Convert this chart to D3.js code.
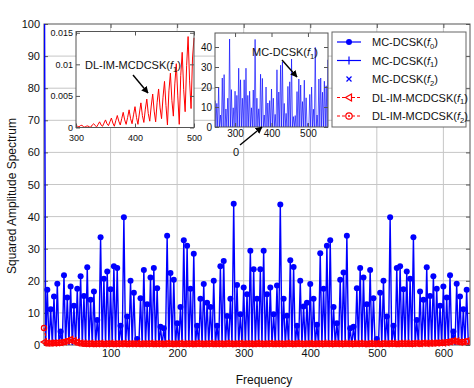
<!DOCTYPE html>
<html>
<head>
<meta charset="utf-8">
<script src="https://cdn.jsdelivr.net/npm/d3@7"></script>
<style>
  body { margin: 0; background: #fff; }
  text { font-family: "Liberation Sans", Arial, sans-serif; fill: #111; }
</style>
</head>
<body>
<svg width="474" height="388"></svg>
<script>
// ---- data ----
// subcarrier frequencies, one stem every 5 units (0 .. 635)
var stemFreq = d3.range(0, 640, 5);

// MC-DCSK squared amplitude at each stem (k=0 runs off the top of the axes)
var mcPeaks = [150,
  17.2, 11.1, 15.1, 19.1, 4.2, 21.7, 14.8, 18.2, 12.2, 17.5,
  21.4, 15.3, 24.2, 14.1, 16.7, 7.8, 33.6, 20.6, 22.9, 17.4,
  24.5, 24.0, 6.0, 39.8, 8.9, 20.0, 16.3, 1.9, 14.6, 23.4,
  12.7, 21.0, 24.0, 17.7, 5.7, 5.2, 34.0, 22.4, 20.3, 6.8,
  11.8, 32.6, 30.9, 17.5, 28.4, 6.0, 14.4, 19.0, 13.2, 11.8,
  20.0, 6.0, 24.5, 26.2, 9.0, 14.4, 44.0, 18.7, 9.6, 17.9,
  15.8, 29.4, 23.6, 14.4, 23.6, 29.4, 15.8, 17.9, 9.6, 18.5,
  43.8, 14.4, 9.1, 26.4, 24.3, 6.0, 20.0, 12.0, 13.2, 19.0,
  14.4, 6.3, 28.6, 17.5, 30.9, 32.6, 11.8, 6.8, 20.3, 22.6,
  34.0, 5.2, 5.7, 17.7, 24.0, 21.0, 12.7, 23.4, 14.6, 1.9,
  16.3, 20.0, 8.9, 39.8, 6.0, 24.0, 24.5, 17.4, 22.9, 20.6,
  33.6, 7.8, 16.7, 14.1, 24.2, 15.3, 21.4, 17.5, 12.2, 18.2,
  14.8, 21.7, 4.2, 19.1, 15.1, 11.1, 17.2];

// DL-IM-MCDCSK, on the main axis scale (near zero everywhere)
var dlF1Main = [0.9, 0.7, 0.6, 0.6, 0.7, 0.8, 1.0, 1.3, 1.8, 1.4,
  0.9, 0.6, 0.5, 0.4, 0.5, 0.4, 0.4, 0.5, 0.4, 0.4,
  0.5, 0.4, 0.4, 0.4, 0.5, 0.4, 0.4, 0.4, 0.5, 0.4,
  0.4, 0.4, 0.5, 0.4, 0.4, 0.4, 0.4, 0.5, 0.4, 0.4,
  0.4, 0.5, 0.4, 0.4, 0.4, 0.4, 0.5, 0.4, 0.4, 0.4,
  0.5, 0.4, 0.4, 0.4, 0.4, 0.5, 0.4, 0.4, 0.4, 0.5,
  0.4, 0.4, 0.4, 0.4, 0.5, 0.4, 0.4, 0.4, 0.5, 0.4,
  0.4, 0.4, 0.4, 0.5, 0.4, 0.4, 0.5, 0.4, 0.4, 0.4,
  0.5, 0.4, 0.4, 0.4, 0.5, 0.4, 0.4, 0.5, 0.4, 0.4,
  0.5, 0.4, 0.4, 0.5, 0.4, 0.5, 0.4, 0.4, 0.5, 0.4,
  0.5, 0.4, 0.5, 0.4, 0.5, 0.5, 0.4, 0.5, 0.5, 0.5,
  0.4, 0.5, 0.5, 0.5, 0.6, 0.5, 0.6, 0.6, 0.6, 0.7,
  0.6, 0.8, 1.1, 1.4, 1.2, 0.9, 1.0, 1.2];
var dlF2Main = [5.3, 0.5, 0.5, 0.6, 0.6, 0.7, 0.9, 1.2, 1.6, 1.2,
  0.8, 0.5, 0.4, 0.4, 0.4, 0.3, 0.4, 0.4, 0.3, 0.4,
  0.4, 0.3, 0.4, 0.4, 0.4, 0.3, 0.4, 0.4, 0.4, 0.3,
  0.4, 0.4, 0.4, 0.3, 0.4, 0.4, 0.3, 0.4, 0.4, 0.3,
  0.4, 0.4, 0.3, 0.4, 0.4, 0.3, 0.4, 0.4, 0.3, 0.4,
  0.4, 0.3, 0.4, 0.4, 0.3, 0.4, 0.4, 0.3, 0.4, 0.4,
  0.3, 0.4, 0.4, 0.3, 0.4, 0.4, 0.3, 0.4, 0.4, 0.3,
  0.4, 0.4, 0.3, 0.4, 0.4, 0.3, 0.4, 0.4, 0.3, 0.4,
  0.4, 0.3, 0.4, 0.4, 0.3, 0.4, 0.4, 0.3, 0.4, 0.4,
  0.3, 0.4, 0.4, 0.3, 0.4, 0.4, 0.4, 0.3, 0.4, 0.4,
  0.4, 0.3, 0.4, 0.4, 0.4, 0.4, 0.3, 0.4, 0.4, 0.4,
  0.4, 0.4, 0.5, 0.4, 0.5, 0.5, 0.5, 0.5, 0.6, 0.6,
  0.7, 0.9, 1.0, 1.2, 1.1, 0.9, 0.9, 1.1];

// zoomed DL-IM-MCDCSK(f1) between 300 and 500, in units of 0.001
var insetDlFreq = d3.range(300, 500.1, 2.5);
var insetDlMilli = [0.4, 0.2, 0.1, 0.3, 0.35, 0.15, 0.05, 0.2,
  0.25, 0.1, 0.05, 0.4, 0.6, 0.3, 0.1, 0.5,
  0.9, 0.4, 0.2, 0.7, 1.2, 0.6, 0.3, 0.9,
  1.5, 0.7, 0.2, 1.1, 1.9, 1.0, 0.4, 1.4,
  2.4, 1.2, 0.5, 1.6, 2.8, 1.4, 0.6, 2.0,
  3.3, 1.6, 0.5, 2.3, 3.9, 1.9, 0.8, 2.9,
  4.5, 2.2, 1.0, 3.4, 5.3, 2.6, 0.9, 4.0,
  6.1, 3.1, 1.4, 4.8, 7.3, 3.5, 0.4, 5.8,
  8.6, 4.3, 1.8, 6.9, 10.1, 5.0, 0.5, 8.2,
  11.9, 6.0, 2.5, 9.8, 14.4, 7.5, 3.0, 11.0, 14.2];

// tick labels
var mainXTicks = [100, 200, 300, 400, 500, 600];
var mainYTicks = [0, 10, 20, 30, 40, 50, 60, 70, 80, 90, 100];
var inset1XTicks = [300, 400, 500];
var inset1YTicks = [0, 5, 10, 15];
var inset1YLabels = ['0', '0.005', '0.01', '0.015'];
var inset2XTicks = [300, 400, 500];
var inset2YTicks = [0, 10, 20, 30, 40];

var legendNames = [['MC-DCSK(', '0'], ['MC-DCSK(', '1'], ['MC-DCSK(', '2'],
                   ['DL-IM-MCDCSK(', '1'], ['DL-IM-MCDCSK(', '2']];

var BLUE = '#0000ff', RED = '#ff0000';

var svg = d3.select('svg');
var svgWidth = +svg.attr('width');
var svgHeight = +svg.attr('height');

svg.append('rect').attr('width', svgWidth).attr('height', svgHeight).attr('fill', '#fff');

var defs = svg.append('defs');
defs.append('clipPath').attr('id', 'clipMain').append('rect')
  .attr('x', 44).attr('y', 24).attr('width', 426).attr('height', 321);
defs.append('clipPath').attr('id', 'clipIn2').append('rect')
  .attr('x', 215).attr('y', 33).attr('width', 113).attr('height', 94);
defs.append('marker').attr('id', 'arrow')
  .attr('viewBox', '0 0 10 10').attr('refX', 9).attr('refY', 5)
  .attr('markerWidth', 5).attr('markerHeight', 5).attr('orient', 'auto')
  .append('path').attr('d', 'M0,0L10,5L0,10Z').attr('fill', '#000');

// main scales
var x = d3.scaleLinear().domain([0, 640]).range([44, 470]);
var y = d3.scaleLinear().domain([0, 100]).range([345, 24]);

// grid
var grid = svg.append('g').attr('stroke', '#c6c6c6').attr('stroke-width', 1);
grid.selectAll('line.gx').data(mainXTicks).enter().append('line')
  .attr('x1', function(d) { return x(d); }).attr('x2', function(d) { return x(d); })
  .attr('y1', y(0)).attr('y2', y(100));
grid.selectAll('line.gy').data(mainYTicks.slice(1, -1)).enter().append('line')
  .attr('x1', x(0)).attr('x2', x(640))
  .attr('y1', function(d) { return y(d); }).attr('y2', function(d) { return y(d); });

// axes with inward ticks (box on)
function drawAxes(g, xs, ys, xt, yt, yFmt, fs, padX, padY) {
  g.append('g').attr('transform', 'translate(0,' + ys.range()[0] + ')')
    .call(d3.axisBottom(xs).tickValues(xt).tickSize(-4).tickPadding(padX));
  g.append('g').attr('transform', 'translate(0,' + ys.range()[1] + ')')
    .call(d3.axisTop(xs).tickValues(xt).tickSize(-4).tickFormat(''));
  g.append('g').attr('transform', 'translate(' + xs.range()[0] + ',0)')
    .call(d3.axisLeft(ys).tickValues(yt).tickSize(-4).tickPadding(padY).tickFormat(yFmt));
  g.append('g').attr('transform', 'translate(' + xs.range()[1] + ',0)')
    .call(d3.axisRight(ys).tickValues(yt).tickSize(-4).tickFormat(''));
  g.selectAll('.domain').remove();
  g.selectAll('.tick line').attr('stroke', '#555');
  g.selectAll('.tick text').attr('font-size', fs).attr('fill', '#222')
    .attr('font-family', '"Liberation Sans", Arial, sans-serif');
  g.append('rect').attr('x', xs.range()[0]).attr('y', ys.range()[1])
    .attr('width', xs.range()[1] - xs.range()[0]).attr('height', ys.range()[0] - ys.range()[1])
    .attr('fill', 'none').attr('stroke', '#555').attr('stroke-width', 1);
}

var mainAxes = svg.append('g');
drawAxes(mainAxes, x, y, mainXTicks, mainYTicks, function(d) { return d; }, 11, 4, 4);

// spike path for a stem series
function spikePath(xs, ys, freqs, vals) {
  var p = '';
  freqs.forEach(function(f, i) {
    p += 'M' + xs(f - 2.5) + ',' + ys(0) + 'L' + xs(f) + ',' + ys(vals[i]) + 'L' + xs(f + 2.5) + ',' + ys(0);
  });
  return p;
}

// MC-DCSK stems
var blueG = svg.append('g').attr('clip-path', 'url(#clipMain)');
blueG.append('path').attr('d', spikePath(x, y, stemFreq, mcPeaks))
  .attr('fill', 'none').attr('stroke', BLUE).attr('stroke-width', 1.4);
blueG.selectAll('circle').data(stemFreq.slice(1)).enter().append('circle')
  .attr('cx', function(d) { return x(d); })
  .attr('cy', function(d, i) { return y(mcPeaks[i + 1]); })
  .attr('r', 3).attr('fill', BLUE);

// DL-IM-MCDCSK band near zero
var redG = svg.append('g');
var lineMain = d3.line().x(function(d) { return x(d[0]); }).y(function(d) { return y(d[1]); });
redG.append('path').attr('d', lineMain(stemFreq.map(function(f, i) { return [f, dlF2Main[i]]; })))
  .attr('fill', 'none').attr('stroke', RED).attr('stroke-width', 1.2).attr('stroke-dasharray', '3,2');
redG.append('path').attr('d', lineMain(stemFreq.map(function(f, i) { return [f, dlF1Main[i]]; })))
  .attr('fill', 'none').attr('stroke', RED).attr('stroke-width', 1.2).attr('stroke-dasharray', '3,2');
redG.selectAll('path.tri').data(stemFreq).enter().append('path').attr('class', 'tri')
  .attr('transform', function(d, i) { return 'translate(' + x(d) + ',' + y(dlF1Main[i]) + ')'; })
  .attr('d', 'M-3,0L2.2,-3L2.2,3Z').attr('fill', 'none').attr('stroke', RED).attr('stroke-width', 1.2);
redG.selectAll('circle').data(stemFreq).enter().append('circle')
  .attr('cx', function(d) { return x(d); })
  .attr('cy', function(d, i) { return y(dlF2Main[i]); })
  .attr('r', 2.6).attr('fill', 'none').attr('stroke', RED).attr('stroke-width', 1.2);

// ---- inset 1: DL-IM-MCDCSK(f1) zoom ----
var x1 = d3.scaleLinear().domain([300, 500]).range([76, 194]);
var y1 = d3.scaleLinear().domain([0, 15.2]).range([127.5, 31.5]);
var in1 = svg.append('g');
in1.append('rect').attr('x', 76).attr('y', 31.5).attr('width', 118).attr('height', 96).attr('fill', '#fff');
in1.append('path')
  .attr('d', d3.line().x(function(d, i) { return x1(insetDlFreq[i]); }).y(function(d) { return y1(d); })(insetDlMilli))
  .attr('fill', 'none').attr('stroke', RED).attr('stroke-width', 1);
drawAxes(in1, x1, y1, inset1XTicks, inset1YTicks, function(d, i) { return inset1YLabels[i]; }, 9, 7, 3);

// ---- inset 2: MC-DCSK zoom ----
var x2 = d3.scaleLinear().domain([245, 555]).range([215, 328]);
var y2 = d3.scaleLinear().domain([0, 47]).range([127, 33]);
var in2 = svg.append('g');
in2.append('rect').attr('x', 215).attr('y', 33).attr('width', 113).attr('height', 94).attr('fill', '#fff');
in2.append('g').attr('clip-path', 'url(#clipIn2)').append('path')
  .attr('d', spikePath(x2, y2, stemFreq, mcPeaks))
  .attr('fill', 'none').attr('stroke', BLUE).attr('stroke-width', 0.8).attr('stroke-opacity', 0.8);
drawAxes(in2, x2, y2, inset2XTicks, inset2YTicks, function(d) { return d; }, 10, 3, 3);

// text with italic f and subscript
function subLabel(g, tx, ty, prefix, sub, fs) {
  var t = g.append('text').attr('x', tx).attr('y', ty).attr('font-size', fs);
  t.append('tspan').text(prefix);
  t.append('tspan').attr('font-style', 'italic').text('f');
  t.append('tspan').attr('dy', fs * 0.25).attr('font-size', fs * 0.7).text(sub);
  t.append('tspan').attr('dy', -fs * 0.25).text(')');
  return t;
}

// ---- legend ----
var legendG = svg.append('g');
legendG.append('rect').attr('x', 332).attr('y', 32).attr('width', 134).attr('height', 95)
  .attr('fill', '#fff').attr('stroke', '#666').attr('stroke-width', 1);
legendNames.forEach(function(nm, i) {
  var ly = 42 + i * 18.5;
  var mx = 349;
  if (i === 0 || i === 1) {
    legendG.append('line').attr('x1', 337).attr('x2', 361).attr('y1', ly).attr('y2', ly)
      .attr('stroke', BLUE).attr('stroke-width', 1.2);
  }
  if (i >= 3) {
    legendG.append('line').attr('x1', 337).attr('x2', 361).attr('y1', ly).attr('y2', ly)
      .attr('stroke', RED).attr('stroke-width', 1.2).attr('stroke-dasharray', '3,2');
  }
  if (i === 0) legendG.append('circle').attr('cx', mx).attr('cy', ly).attr('r', 3).attr('fill', BLUE);
  if (i === 1) legendG.append('path').attr('d', 'M' + (mx - 4) + ',' + ly + 'h8M' + mx + ',' + (ly - 4) + 'v8')
    .attr('stroke', BLUE).attr('stroke-width', 1.2);
  if (i === 2) legendG.append('path')
    .attr('d', 'M' + (mx - 2.5) + ',' + (ly - 2.5) + 'l5,5M' + (mx + 2.5) + ',' + (ly - 2.5) + 'l-5,5')
    .attr('stroke', BLUE).attr('stroke-width', 1.2);
  if (i === 3) legendG.append('path').attr('transform', 'translate(' + mx + ',' + ly + ')')
    .attr('d', 'M-3.5,0L2.5,-3.5L2.5,3.5Z').attr('fill', '#fff').attr('stroke', RED).attr('stroke-width', 1.2);
  if (i === 4) {
    legendG.append('circle').attr('cx', mx).attr('cy', ly).attr('r', 3.2)
      .attr('fill', '#fff').attr('stroke', RED).attr('stroke-width', 1.2);
    legendG.append('circle').attr('cx', mx).attr('cy', ly).attr('r', 1).attr('fill', RED);
  }
  subLabel(legendG, 372, ly + 4, nm[0], nm[1], 11);
});

// ---- annotations ----
var ann = svg.append('g');
subLabel(ann, 85, 69, 'DL-IM-MCDCSK(', '1', 11);
ann.append('line').attr('x1', 133).attr('y1', 75).attr('x2', 148).attr('y2', 93)
  .attr('stroke', '#000').attr('stroke-width', 1.4).attr('marker-end', 'url(#arrow)');
subLabel(ann, 252, 56, 'MC-DCSK(', '1', 11);
ann.append('line').attr('x1', 282).attr('y1', 60).attr('x2', 297).attr('y2', 77)
  .attr('stroke', '#000').attr('stroke-width', 1.4).attr('marker-end', 'url(#arrow)');
ann.append('text').attr('x', 236).attr('y', 156).attr('font-size', 11).attr('text-anchor', 'middle').text('0');
ann.append('line').attr('x1', 240).attr('y1', 145).attr('x2', 262).attr('y2', 127)
  .attr('stroke', '#000').attr('stroke-width', 1.4).attr('marker-end', 'url(#arrow)');

// ---- axis titles ----
svg.append('text').attr('transform', 'translate(16,196) rotate(-90)')
  .attr('text-anchor', 'middle').attr('font-size', 12).text('Squared Amplitude Spectrum');
svg.append('text').attr('x', 264).attr('y', 384)
  .attr('text-anchor', 'middle').attr('font-size', 12).text('Frequency');
</script>
</body>
</html>
